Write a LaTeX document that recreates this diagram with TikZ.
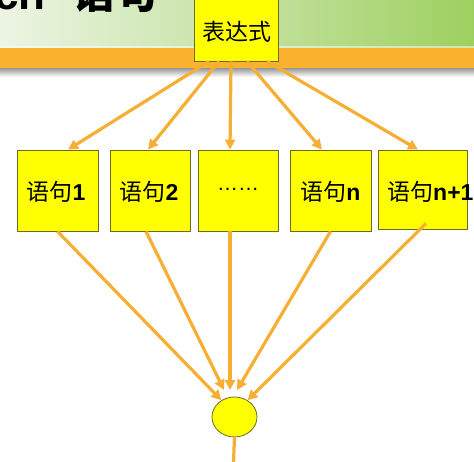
\documentclass[tikz,border=0pt]{standalone}
\usepackage{fontspec}
\setmainfont{Liberation Sans}
\newfontfamily\cjk{Noto Sans CJK SC}
\usetikzlibrary{arrows.meta,shapes.geometric}
\definecolor{ln}{RGB}{247,174,52}
\definecolor{band}{RGB}{251,178,46}
\definecolor{boxfill}{RGB}{255,255,0}
\definecolor{boxline}{RGB}{110,105,40}
\definecolor{gl}{RGB}{236,245,228}
\definecolor{gr}{RGB}{158,208,96}
\begin{document}
\begin{tikzpicture}[x=1pt,y=-1pt,
  stmt/.style={draw=boxline,fill=boxfill,line width=0.8pt,minimum width=81pt,minimum height=81pt,inner sep=0pt},
  lbl/.style={inner sep=0pt,font=\fontsize{23}{23}\selectfont},
  flow/.style={draw=ln,line width=3.2pt,-{Triangle[length=10pt,width=10pt]}}]
\useasboundingbox (0,0) rectangle (474,462);
\clip (0,0) rectangle (474,462);
% header
\shade[left color=gl,right color=gr] (0,0) rectangle (474,48);
\fill[white,opacity=0.5] (0,46.5) rectangle (474,48.5);
\shade[top color=black!45,bottom color=white] (0,67) rectangle (474,77);
\fill[band] (0,48.5) rectangle (474,68);
\node[anchor=base east,inner sep=0pt,font=\bfseries\fontsize{44}{44}\selectfont] (tta) at (46,10) {switch};
\node[anchor=base west,inner sep=0pt,font=\cjk\bfseries\fontsize{42}{42}\selectfont] (ttb) at (73,9) {语句};
% expression box
\node[stmt,minimum width=84pt,minimum height=71pt] (expr) at (236,25.5) {};
\node[lbl,font=\cjk\fontsize{23}{23}\selectfont] (exprt) at (237,32) {表达式};
% statement boxes
\node[stmt] (b1) at (57.5,190.5) {};
\node[stmt,minimum width=80pt] (b2) at (150,190.5) {};
\node[stmt,minimum width=80pt] (b3) at (238,190.5) {};
\node[stmt] (b4) at (330.5,190.5) {};
\node[stmt,minimum width=89pt,minimum height=79pt] (b5) at (422.5,189.5) {};
\node[lbl] (t1) at (56,192) {{\cjk 语句}\textbf{1}};
\node[lbl] (t2) at (149,192) {{\cjk 语句}\textbf{2}};
\node[lbl,font=\fontsize{21}{21}\selectfont] (t3) at (238,189) {……};
\node[lbl] (t4) at (330.5,192) {{\cjk 语句}\textbf{n}};
\node[lbl,anchor=west] (t5) at (387,192) {{\cjk 语句}\textbf{n+1}};
% merge point
\node[ellipse,draw=boxline,fill=boxfill,line width=0.8pt,minimum width=45pt,minimum height=40pt,inner sep=0pt] (m) at (234.5,417) {};
\coordinate (out) at (233,474);
% fan out
\draw[flow] ([xshift=-27pt]expr.south) -- ([xshift=10.5pt]b1.north);
\draw[flow] ([xshift=-17pt]expr.south) -- ([xshift=-2pt]b2.north);
\draw[flow] ([xshift=-5pt]expr.south) -- ([xshift=-8pt]b3.north);
\draw[flow] ([xshift=11pt]expr.south) -- ([xshift=-8.5pt]b4.north);
\draw[flow] ([xshift=31pt]expr.south) -- ([xshift=-4.5pt]b5.north);
% fan in
\draw[flow] (b1.south) -- (m.128);
\draw[flow] ([xshift=-4pt]b2.south) -- ([xshift=-10.5pt,yshift=27pt]m.center);
\draw[flow] ([xshift=-8pt]b3.south) -- ([xshift=-4.5pt,yshift=27pt]m.center);
\draw[flow] (b4.south) -- ([xshift=2.5pt,yshift=27pt]m.center);
\draw[flow] ([xshift=3.5pt,yshift=6pt]b5.south) -- (m.52);
\draw[flow] (m.south) -- (out);
\end{tikzpicture}
\end{document}
